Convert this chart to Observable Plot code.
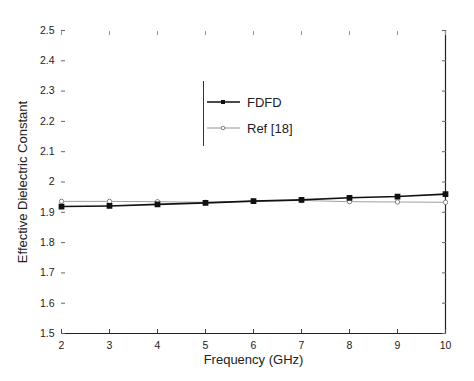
<!DOCTYPE html>
<html><head><meta charset="utf-8">
<script src="https://cdn.jsdelivr.net/npm/d3@7"></script>
<script src="https://cdn.jsdelivr.net/npm/@observablehq/plot@0.6"></script>
<style>
body{margin:0;background:#fff;font-family:"Liberation Sans",Arial,sans-serif;}
#wrap{position:relative;width:474px;height:381px;}
#legend{position:absolute;left:0;top:0;}
</style></head>
<body><div id="wrap"></div>
<script>
const frequency = [2, 3, 4, 5, 6, 7, 8, 9, 10];
const fdfd = [1.919, 1.921, 1.926, 1.931, 1.937, 1.941, 1.948, 1.952, 1.960];
const ref18 = [1.936, 1.936, 1.935, 1.933, 1.937, 1.939, 1.935, 1.934, 1.933];
const xTicks = [2, 3, 4, 5, 6, 7, 8, 9, 10];
const yTicks = [1.5, 1.6, 1.7, 1.8, 1.9, 2.0, 2.1, 2.2, 2.3, 2.4, 2.5];
const seriesNames = ["FDFD", "Ref [18]"];

const dF = frequency.map((f, i) => ({f, v: fdfd[i]}));
const dR = frequency.map((f, i) => ({f, v: ref18[i]}));

const chart = Plot.plot({
  width: 474, height: 381,
  marginLeft: 61, marginRight: 29, marginTop: 30, marginBottom: 48,
  style: {fontFamily: "Liberation Sans, Arial, sans-serif", background: "#fff", color: "#222"},
  x: {domain: [2, 10]},
  y: {domain: [1.5, 2.5]},
  marks: [
    Plot.ruleY([1.5], {stroke: "#222", strokeWidth: 1.2}),
    Plot.ruleX([10], {stroke: "#222", strokeWidth: 1.2}),
    Plot.axisX({ticks: xTicks, tickSize: -4, tickPadding: 12, tickFormat: d => String(d), fontSize: 10.5, label: "Frequency (GHz)", labelAnchor: "center", labelArrow: "none", labelOffset: 30, stroke: "#444"}),
    Plot.axisX({anchor: "top", ticks: xTicks, tickSize: -4, tickFormat: () => "", label: null, stroke: "#999"}),
    Plot.axisY({ticks: yTicks, tickSize: -4, tickPadding: 11, tickFormat: d => d === 2 ? "2" : d3.format(".1f")(d), fontSize: 10.5, label: "Effective Dielectric Constant", labelAnchor: "center", labelArrow: "none", labelOffset: 44, stroke: "#666"}),
    Plot.axisY({anchor: "right", ticks: yTicks, tickSize: -4, tickFormat: () => "", label: null, stroke: "#666"}),
    Plot.line(dR, {x: "f", y: "v", stroke: "#888", strokeWidth: 0.8}),
    Plot.line(dF, {x: "f", y: "v", stroke: "#111", strokeWidth: 1.6}),
    Plot.dot(dR, {x: "f", y: "v", r: 2.2, symbol: "circle", fill: "#fff", stroke: "#777", strokeWidth: 0.9}),
    Plot.dot(dF, {x: "f", y: "v", r: 2.4, symbol: "square", fill: "#111", stroke: "#111"})
  ]
});
chart.querySelectorAll('g[aria-label="y-axis label"] text, g[aria-label="x-axis label"] text').forEach(t => {
  t.setAttribute("font-size", "13");
  t.setAttribute("fill", "#222");
});
const wrap = document.getElementById("wrap");
wrap.appendChild(chart);

// legend overlay
const ns = "http://www.w3.org/2000/svg";
const lg = document.createElementNS(ns, "svg");
lg.setAttribute("id", "legend");
lg.setAttribute("width", 474); lg.setAttribute("height", 381);
lg.style.position = "absolute"; lg.style.left = "0"; lg.style.top = "0";
const mk = (tag, attrs) => { const e = document.createElementNS(ns, tag); for (const k in attrs) e.setAttribute(k, attrs[k]); lg.appendChild(e); return e; };
mk("line", {x1: 203.5, y1: 81, x2: 203.5, y2: 146, stroke: "#333", "stroke-width": 1});
mk("line", {x1: 207, y1: 102, x2: 240, y2: 102, stroke: "#111", "stroke-width": 1.6});
mk("rect", {x: 221, y: 100, width: 4, height: 4, fill: "#111"});
mk("line", {x1: 207, y1: 128, x2: 240, y2: 128, stroke: "#777", "stroke-width": 0.8});
mk("circle", {cx: 223, cy: 128, r: 1.8, fill: "#fff", stroke: "#777", "stroke-width": 0.9});
const t1 = mk("text", {x: 247, y: 106.5, "font-size": 13, fill: "#222", "font-family": "Liberation Sans, Arial, sans-serif"}); t1.textContent = seriesNames[0];
const t2 = mk("text", {x: 247, y: 132.5, "font-size": 13, fill: "#222", "font-family": "Liberation Sans, Arial, sans-serif"}); t2.textContent = seriesNames[1];
wrap.appendChild(lg);
</script></body></html>
